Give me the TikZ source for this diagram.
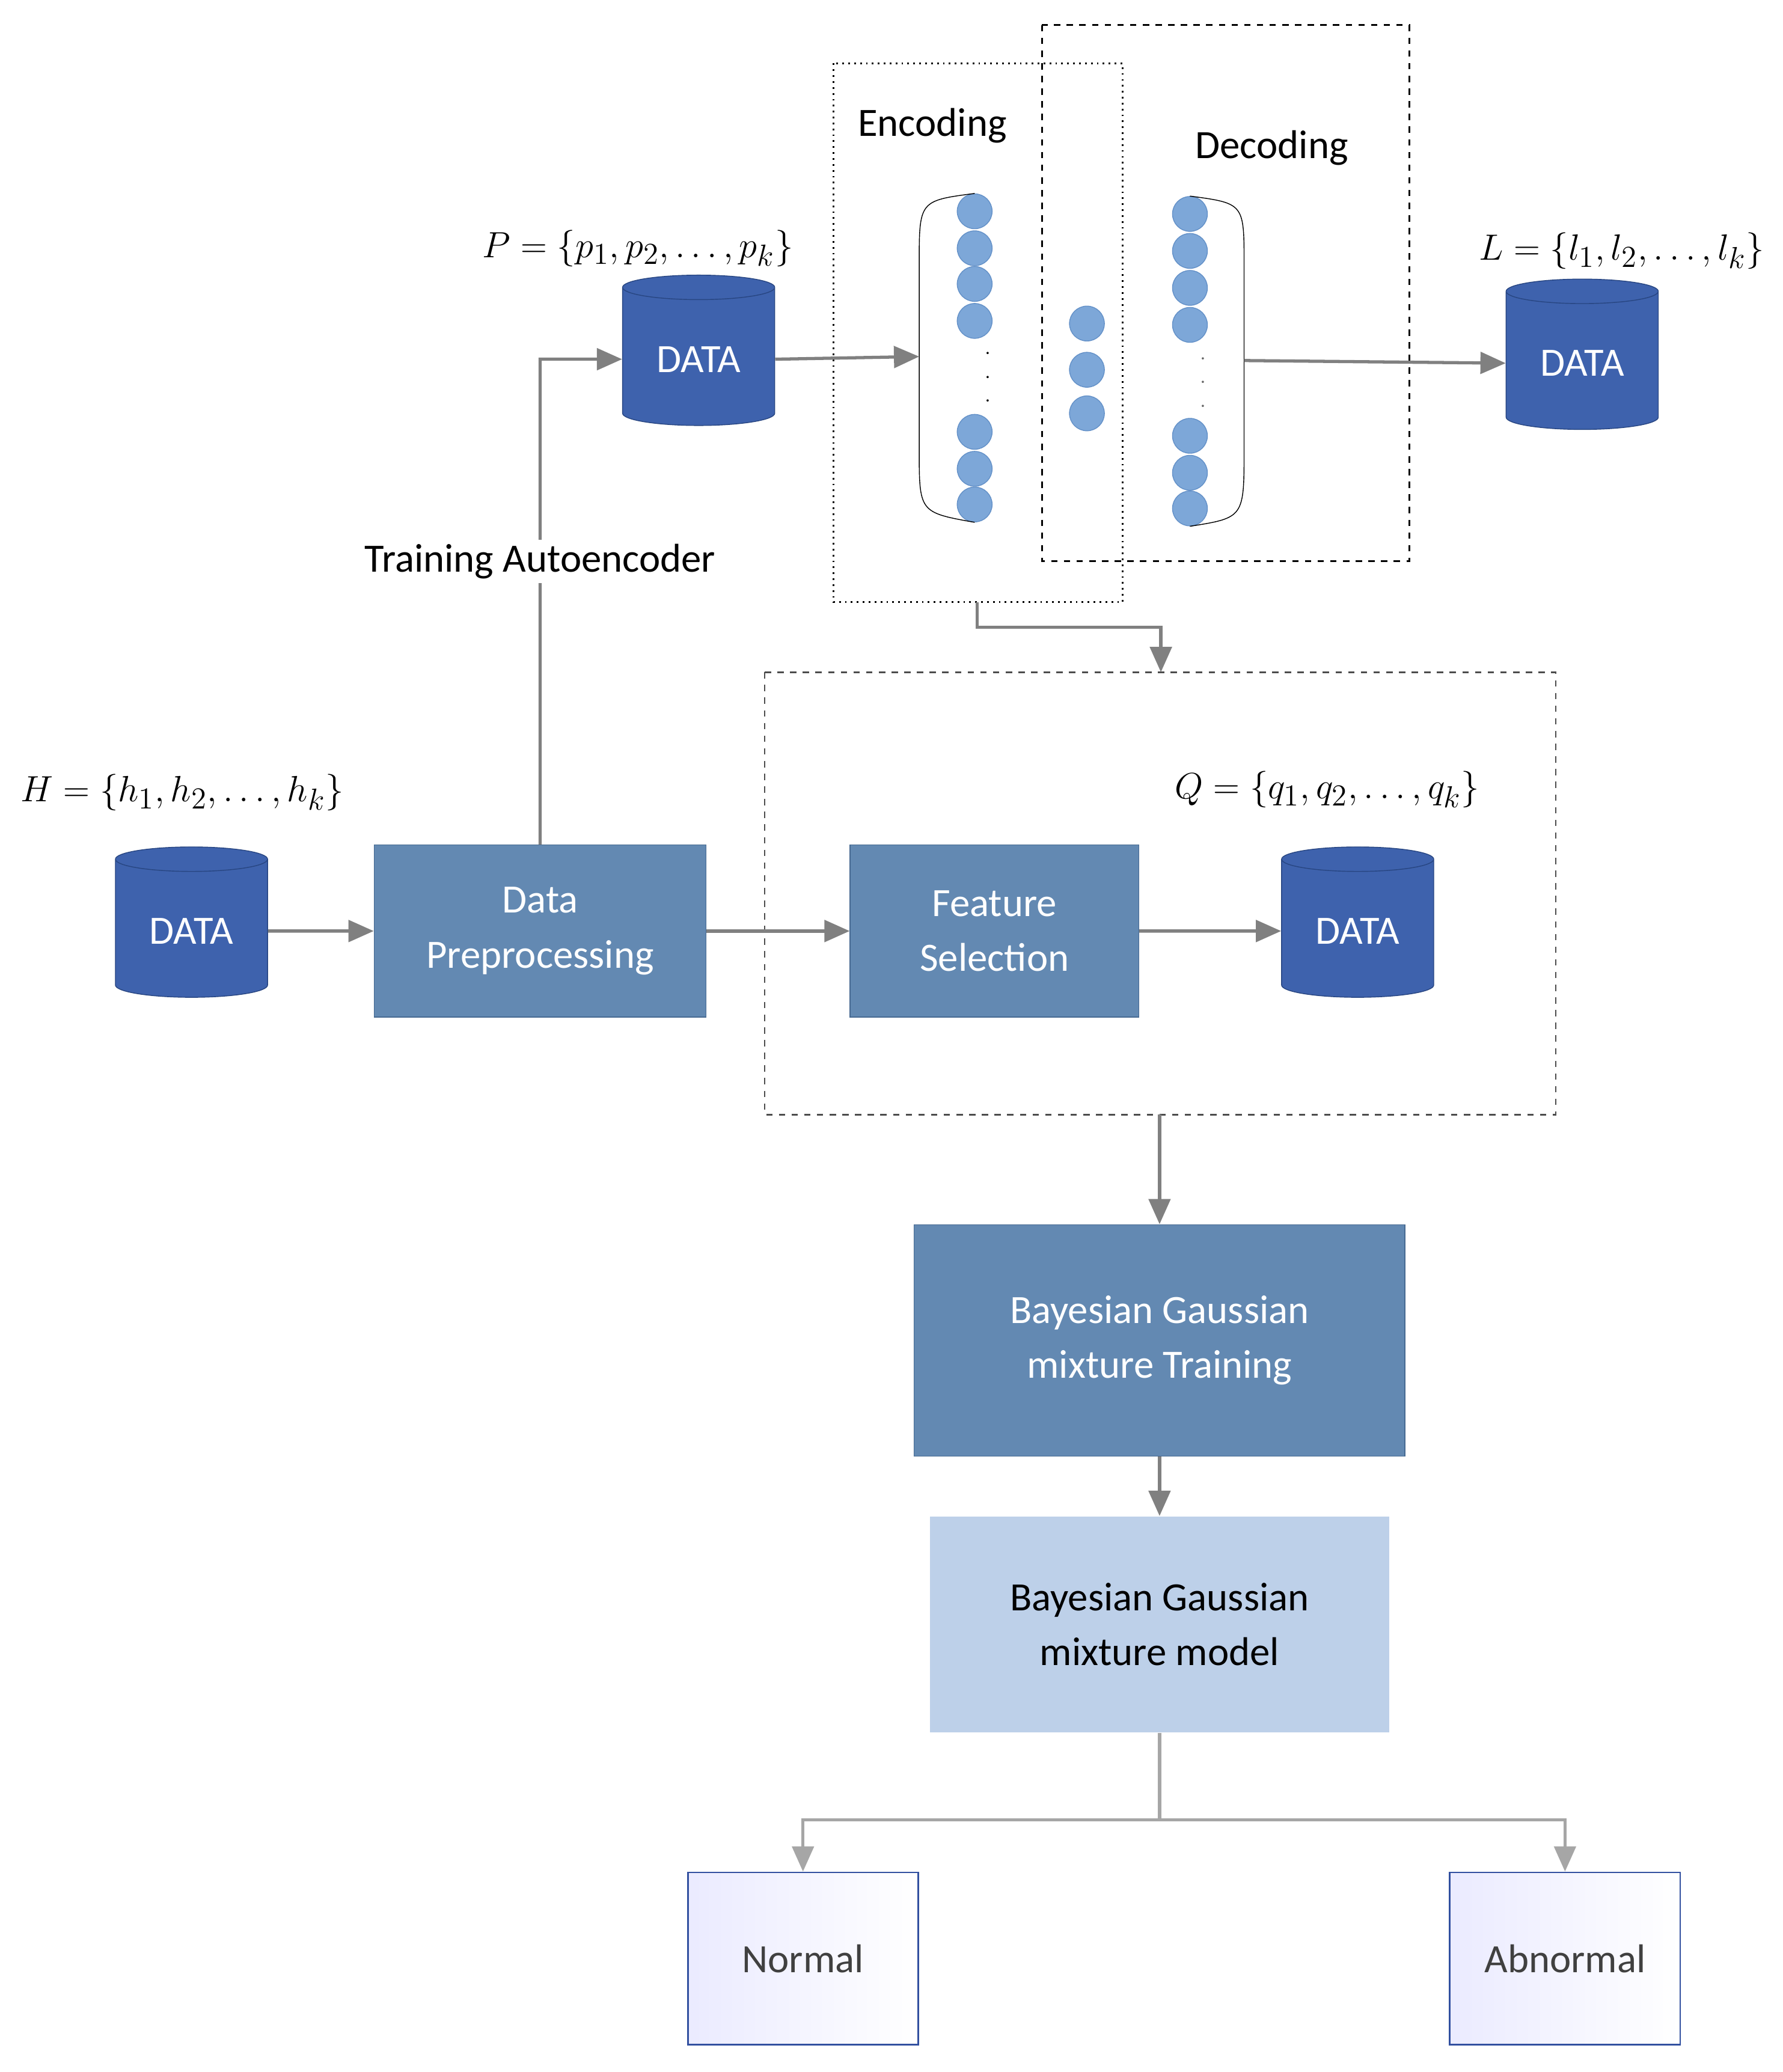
\documentclass[tikz,border=0pt]{standalone}
\usepackage{fontspec}
\setmainfont{Carlito}
\usepackage{tikz}
\usetikzlibrary{shapes.geometric,arrows.meta,positioning,calc}
\definecolor{boxblue}{RGB}{99,137,178}
\definecolor{boxedge}{RGB}{70,105,145}
\definecolor{cylblue}{RGB}{62,98,173}
\definecolor{cyledge}{RGB}{40,70,130}
\definecolor{lightbox}{RGB}{189,208,233}
\definecolor{neuron}{RGB}{125,167,216}
\definecolor{neuronedge}{RGB}{100,145,200}
\definecolor{linegray}{RGB}{128,128,128}
\definecolor{outblue}{RGB}{50,80,160}
\tikzset{
    database/.style={cylinder, shape border rotate=90, aspect=0.25, draw=cyledge, fill=cylblue, minimum width=2.53cm, minimum height=2.5cm, text=white, font=\fontsize{19}{23}\selectfont},
    process/.style={draw=boxedge, fill=boxblue, rectangle, text=white, align=center, font=\fontsize{19}{26}\selectfont},
    model/.style={fill=lightbox, rectangle, align=center, font=\fontsize{19}{26}\selectfont},
    result/.style={draw=outblue, thick, rectangle, top color=white, bottom color=white, middle color=white, left color=blue!8, right color=white, minimum width=3.83cm, minimum height=2.86cm, text=black!75, font=\fontsize{19}{23}\selectfont},
    unit/.style={circle, draw=neuronedge, fill=neuron, minimum size=0.58cm, inner sep=0pt},
    flow/.style={-{Triangle[length=0.42cm,width=0.36cm]}, linegray, line width=1.5pt},
    outflow/.style={-{Triangle[length=0.42cm,width=0.36cm]}, black!35, line width=1.5pt},
    label/.style={font=\fontsize{19}{23}\selectfont}
}
\begin{document}
\begin{tikzpicture}[x=0.02196cm, y=-0.02196cm]
        \useasboundingbox (0,0) rectangle (1350,1569);
        % Frames
        \draw[dotted, thick] (631,48) rectangle (850,456);
        \draw[dashed, thick] (789,19) rectangle (1067,425);
        \draw[dashed, black!70, thick] (579,509) rectangle (1178,844);
        \node[label] (enc) at (706,95) {Encoding};
        \node[label] (dec) at (963,112) {Decoding};
        
        % Data stores
        \node[database] (dh) at (145,705) {DATA};
        \node[database] (dp) at (529,272) {DATA};
        \node[database] (dl) at (1198,275) {DATA};
        \node[database] (dq) at (1028,705) {DATA};
        \node[label] at (138,600) {$H=\{h_1,h_2,\ldots,h_k\}$};
        \node[label] at (483,188) {$P=\{p_1,p_2,\ldots,p_k\}$};
        \node[label] at (1228,190) {$L=\{l_1,l_2,\ldots,l_k\}$};
        \node[label] at (1005,598) {$Q=\{q_1,q_2,\ldots,q_k\}$};
        
        % Processing boxes
        \node[process, minimum width=5.52cm, minimum height=2.86cm] (prep) at (409,705) {Data\\Preprocessing};
        \node[process, minimum width=4.8cm, minimum height=2.86cm] (feat) at (753,705) {Feature\\Selection};
        \node[process, minimum width=8.16cm, minimum height=3.85cm] (train) at (878,1015) {Bayesian Gaussian\\mixture Training};
        \node[model, minimum width=7.63cm, minimum height=3.59cm] (bgm) at (878,1230) {Bayesian Gaussian\\mixture model};
        \node[result] (normal) at (608,1483) {Normal};
        \node[result] (abnormal) at (1185,1483) {Abnormal};
        
        % Autoencoder units
        \foreach \i/\y in {1/160,2/188,3/215,4/243,5/327,6/355,7/382}
            \node[unit] (e\i) at (738,\y) {};
        \foreach \i/\y in {1/245,2/280,3/313}
            \node[unit] (m\i) at (823,\y) {};
        \foreach \i/\y in {1/162,2/190,3/218,4/246,5/330,6/358,7/385}
            \node[unit] (d\i) at (901,\y) {};
        \node at (748,268) {$\cdot$};
        \node at (748,286) {$\cdot$};
        \node at (748,304) {$\cdot$};
        \node[black!60] at (911,272) {$\cdot$};
        \node[black!60] at (911,290) {$\cdot$};
        \node[black!60] at (911,308) {$\cdot$};
        \draw (e1.north) .. controls (696,152) .. (696,200) -- (696,340) .. controls (696,388) .. (e7.south);
        \draw (d1.north) .. controls (942,154) .. (942,200) -- (942,340) .. controls (942,392) .. (d7.south);
        \coordinate (encin) at (696,270);
        \coordinate (decout) at (942,273);
        
        % Connections
        \draw[flow] (dh) -- (prep);
        \draw[flow] (prep) -- (feat);
        \draw[flow] (feat) -- (dq);
        \draw[flow] (prep.north) -- (409,272) -- (dp.west);
        \node[label, fill=white, inner sep=2pt] (tlabel) at (409,425) {Training Autoencoder};
        \draw[flow] (dp.east) -- (encin);
        \draw[flow] (decout) -- (dl.west);
        \draw[flow] (740,456) -- (740,475) -- (879,475) -- (879,509);
        \draw[flow] (878,844) -- (train.north);
        \draw[flow] (train) -- (bgm);
        \draw[outflow] (bgm.south) -- (878,1378) -- (608,1378) -- (normal.north);
        \draw[outflow] (878,1378) -- (1185,1378) -- (abnormal.north);
    \end{tikzpicture}
\end{document}
